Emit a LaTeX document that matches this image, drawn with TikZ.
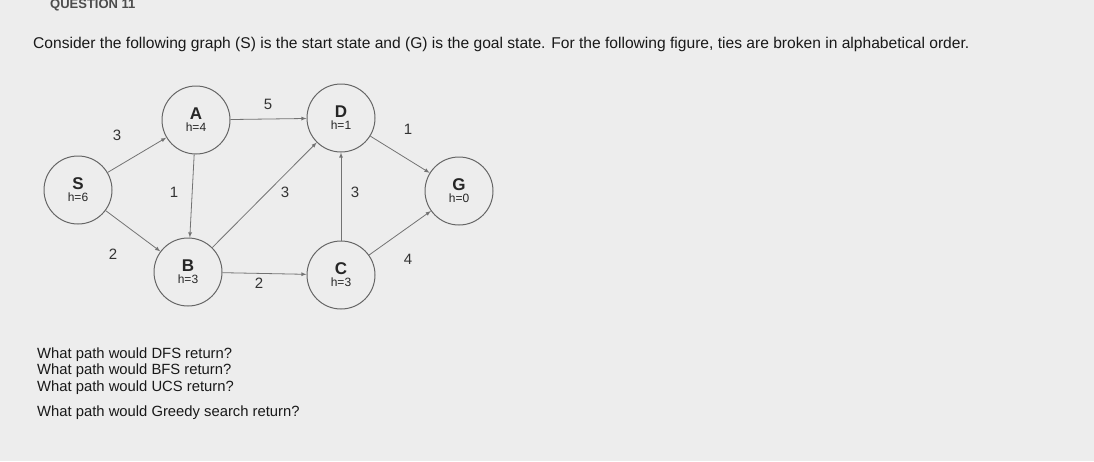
\documentclass[tikz,border=0pt]{standalone}
\usepackage{fontspec}
\setmainfont{Liberation Sans}
\newfontfamily\wtfont{Liberation Sans}
\begin{document}
\begin{tikzpicture}[x=1pt,y=-1pt,
  st/.style={circle,draw=black!60,line width=1pt,minimum size=68pt,align=center,inner sep=0pt,text=black!85},
  ed/.style={-latex,draw=black!55,line width=0.8pt},
  wt/.style={font=\wtfont\fontsize{15}{15}\selectfont,text=black!80},
  q/.style={anchor=west,font=\fontsize{14.8}{15}\selectfont,inner sep=0pt,text=black!90}]
\fill[black!7] (0,0) rectangle (1094,461);
\useasboundingbox (0,0) rectangle (1094,461);
\node[anchor=west,inner sep=0pt,font=\bfseries\fontsize{13}{13}\selectfont,text=black!70] (qt) at (50,5) {QUESTION 11};
\node[anchor=west,inner sep=0pt,font=\fontsize{15.6}{16}\selectfont,text=black!90] (intro) at (33,44) {Consider the following graph (S) is the start state and (G) is the goal state. For the following figure, ties are broken in alphabetical order.};
\newcommand{\lab}[2]{{\fontsize{17}{18}\selectfont\bfseries #1}\\[0pt]{\fontsize{12}{13}\selectfont h=#2}}
\node[st] (S) at (78,190) {\lab{S}{6}};
\node[st] (A) at (196,120) {\lab{A}{4}};
\node[st] (B) at (188,272) {\lab{B}{3}};
\node[st] (D) at (341,118) {\lab{D}{1}};
\node[st] (C) at (341,275) {\lab{C}{3}};
\node[st] (G) at (459,191) {\lab{G}{0}};
\draw[ed] (S) -- (A);
\draw[ed] (S) -- (B);
\draw[ed] (A) -- (B);
\draw[ed] (A) -- (D);
\draw[ed] (B) -- (D);
\draw[ed] (B) -- (C);
\draw[ed] (C) -- (D);
\draw[ed] (D) -- (G);
\draw[ed] (C) -- (G);
\node[wt] (w1) at (117,135) {3};
\node[wt] (w2) at (113,254) {2};
\node[wt] (w3) at (174,192) {1};
\node[wt] (w4) at (268,104) {5};
\node[wt] (w5) at (285,192) {3};
\node[wt] (w6) at (259,283) {2};
\node[wt] (w7) at (355,192) {3};
\node[wt] (w8) at (408,129) {1};
\node[wt] (w9) at (408,259) {4};
\node[q] (q1) at (37,355) {What path would DFS return?};
\node[q] (q2) at (37,371) {What path would BFS return?};
\node[q] (q3) at (37,388) {What path would UCS return?};
\node[q] (q4) at (37,413) {What path would Greedy search return?};
\end{tikzpicture}
\end{document}
